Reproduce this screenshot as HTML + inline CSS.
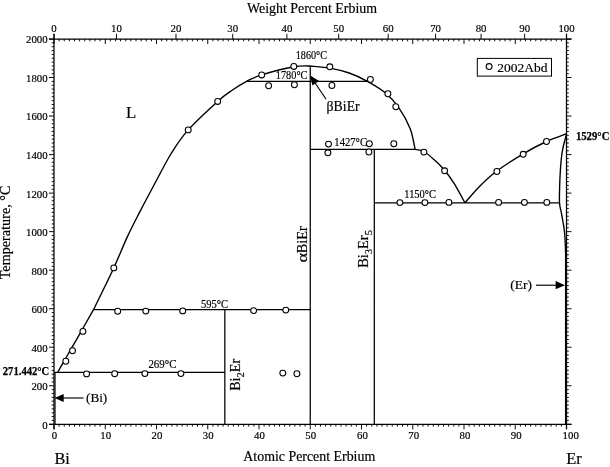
<!DOCTYPE html>
<html lang="en"><head><meta charset="utf-8"><title>Bi-Er Phase Diagram</title>
<style>html,body{margin:0;padding:0;background:#fff}body{width:610px;height:467px;overflow:hidden}</style>
</head><body>
<svg width="610" height="467" viewBox="0 0 610 467" style="display:block">
<rect width="610" height="467" fill="#fff"/>
<g stroke="#000" stroke-width="1.25" fill="none" stroke-linecap="butt">
<path d="M49.00 39.00H571.50M49.00 424.30H571.50M54.00 33.80V429.30M566.50 33.80V429.30"/>
</g>
<g stroke="#000" stroke-width="0.95" fill="none">
<path d="M54.00 424.30v5M54.00 39.00v5M59.12 424.30v2.3M59.12 39.00v2.3M64.25 424.30v2.3M64.25 39.00v2.3M69.38 424.30v2.3M69.38 39.00v2.3M74.50 424.30v2.3M74.50 39.00v2.3M79.62 424.30v2.3M79.62 39.00v2.3M84.75 424.30v2.3M84.75 39.00v2.3M89.88 424.30v2.3M89.88 39.00v2.3M95.00 424.30v2.3M95.00 39.00v2.3M100.12 424.30v2.3M100.12 39.00v2.3M105.25 424.30v5M105.25 39.00v5M110.38 424.30v2.3M110.38 39.00v2.3M115.50 424.30v2.3M115.50 39.00v2.3M120.62 424.30v2.3M120.62 39.00v2.3M125.75 424.30v2.3M125.75 39.00v2.3M130.88 424.30v2.3M130.88 39.00v2.3M136.00 424.30v2.3M136.00 39.00v2.3M141.12 424.30v2.3M141.12 39.00v2.3M146.25 424.30v2.3M146.25 39.00v2.3M151.38 424.30v2.3M151.38 39.00v2.3M156.50 424.30v5M156.50 39.00v5M161.62 424.30v2.3M161.62 39.00v2.3M166.75 424.30v2.3M166.75 39.00v2.3M171.88 424.30v2.3M171.88 39.00v2.3M177.00 424.30v2.3M177.00 39.00v2.3M182.12 424.30v2.3M182.12 39.00v2.3M187.25 424.30v2.3M187.25 39.00v2.3M192.38 424.30v2.3M192.38 39.00v2.3M197.50 424.30v2.3M197.50 39.00v2.3M202.62 424.30v2.3M202.62 39.00v2.3M207.75 424.30v5M207.75 39.00v5M212.88 424.30v2.3M212.88 39.00v2.3M218.00 424.30v2.3M218.00 39.00v2.3M223.12 424.30v2.3M223.12 39.00v2.3M228.25 424.30v2.3M228.25 39.00v2.3M233.38 424.30v2.3M233.38 39.00v2.3M238.50 424.30v2.3M238.50 39.00v2.3M243.62 424.30v2.3M243.62 39.00v2.3M248.75 424.30v2.3M248.75 39.00v2.3M253.88 424.30v2.3M253.88 39.00v2.3M259.00 424.30v5M259.00 39.00v5M264.12 424.30v2.3M264.12 39.00v2.3M269.25 424.30v2.3M269.25 39.00v2.3M274.38 424.30v2.3M274.38 39.00v2.3M279.50 424.30v2.3M279.50 39.00v2.3M284.62 424.30v2.3M284.62 39.00v2.3M289.75 424.30v2.3M289.75 39.00v2.3M294.88 424.30v2.3M294.88 39.00v2.3M300.00 424.30v2.3M300.00 39.00v2.3M305.12 424.30v2.3M305.12 39.00v2.3M310.25 424.30v5M310.25 39.00v5M315.38 424.30v2.3M315.38 39.00v2.3M320.50 424.30v2.3M320.50 39.00v2.3M325.62 424.30v2.3M325.62 39.00v2.3M330.75 424.30v2.3M330.75 39.00v2.3M335.88 424.30v2.3M335.88 39.00v2.3M341.00 424.30v2.3M341.00 39.00v2.3M346.12 424.30v2.3M346.12 39.00v2.3M351.25 424.30v2.3M351.25 39.00v2.3M356.38 424.30v2.3M356.38 39.00v2.3M361.50 424.30v5M361.50 39.00v5M366.62 424.30v2.3M366.62 39.00v2.3M371.75 424.30v2.3M371.75 39.00v2.3M376.88 424.30v2.3M376.88 39.00v2.3M382.00 424.30v2.3M382.00 39.00v2.3M387.12 424.30v2.3M387.12 39.00v2.3M392.25 424.30v2.3M392.25 39.00v2.3M397.38 424.30v2.3M397.38 39.00v2.3M402.50 424.30v2.3M402.50 39.00v2.3M407.62 424.30v2.3M407.62 39.00v2.3M412.75 424.30v5M412.75 39.00v5M417.88 424.30v2.3M417.88 39.00v2.3M423.00 424.30v2.3M423.00 39.00v2.3M428.12 424.30v2.3M428.12 39.00v2.3M433.25 424.30v2.3M433.25 39.00v2.3M438.38 424.30v2.3M438.38 39.00v2.3M443.50 424.30v2.3M443.50 39.00v2.3M448.62 424.30v2.3M448.62 39.00v2.3M453.75 424.30v2.3M453.75 39.00v2.3M458.88 424.30v2.3M458.88 39.00v2.3M464.00 424.30v5M464.00 39.00v5M469.12 424.30v2.3M469.12 39.00v2.3M474.25 424.30v2.3M474.25 39.00v2.3M479.38 424.30v2.3M479.38 39.00v2.3M484.50 424.30v2.3M484.50 39.00v2.3M489.62 424.30v2.3M489.62 39.00v2.3M494.75 424.30v2.3M494.75 39.00v2.3M499.88 424.30v2.3M499.88 39.00v2.3M505.00 424.30v2.3M505.00 39.00v2.3M510.12 424.30v2.3M510.12 39.00v2.3M515.25 424.30v5M515.25 39.00v5M520.38 424.30v2.3M520.38 39.00v2.3M525.50 424.30v2.3M525.50 39.00v2.3M530.62 424.30v2.3M530.62 39.00v2.3M535.75 424.30v2.3M535.75 39.00v2.3M540.88 424.30v2.3M540.88 39.00v2.3M546.00 424.30v2.3M546.00 39.00v2.3M551.12 424.30v2.3M551.12 39.00v2.3M556.25 424.30v2.3M556.25 39.00v2.3M561.38 424.30v2.3M561.38 39.00v2.3M566.50 424.30v5M566.50 39.00v5M54.00 39.00v-5.2M116.48 39.00v-5.2M175.98 39.00v-5.2M232.73 39.00v-5.2M286.90 39.00v-5.2M338.66 39.00v-5.2M388.19 39.00v-5.2M435.60 39.00v-5.2M481.05 39.00v-5.2M524.65 39.00v-5.2M566.50 39.00v-5.2M54.00 424.30h-5M566.50 424.30h5M54.00 420.45h-2.3M566.50 420.45h2.3M54.00 416.59h-2.3M566.50 416.59h2.3M54.00 412.74h-2.3M566.50 412.74h2.3M54.00 408.89h-2.3M566.50 408.89h2.3M54.00 405.04h-2.3M566.50 405.04h2.3M54.00 401.18h-2.3M566.50 401.18h2.3M54.00 397.33h-2.3M566.50 397.33h2.3M54.00 393.48h-2.3M566.50 393.48h2.3M54.00 389.62h-2.3M566.50 389.62h2.3M54.00 385.77h-5M566.50 385.77h5M54.00 381.92h-2.3M566.50 381.92h2.3M54.00 378.06h-2.3M566.50 378.06h2.3M54.00 374.21h-2.3M566.50 374.21h2.3M54.00 370.36h-2.3M566.50 370.36h2.3M54.00 366.50h-2.3M566.50 366.50h2.3M54.00 362.65h-2.3M566.50 362.65h2.3M54.00 358.80h-2.3M566.50 358.80h2.3M54.00 354.95h-2.3M566.50 354.95h2.3M54.00 351.09h-2.3M566.50 351.09h2.3M54.00 347.24h-5M566.50 347.24h5M54.00 343.39h-2.3M566.50 343.39h2.3M54.00 339.53h-2.3M566.50 339.53h2.3M54.00 335.68h-2.3M566.50 335.68h2.3M54.00 331.83h-2.3M566.50 331.83h2.3M54.00 327.98h-2.3M566.50 327.98h2.3M54.00 324.12h-2.3M566.50 324.12h2.3M54.00 320.27h-2.3M566.50 320.27h2.3M54.00 316.42h-2.3M566.50 316.42h2.3M54.00 312.56h-2.3M566.50 312.56h2.3M54.00 308.71h-5M566.50 308.71h5M54.00 304.86h-2.3M566.50 304.86h2.3M54.00 301.00h-2.3M566.50 301.00h2.3M54.00 297.15h-2.3M566.50 297.15h2.3M54.00 293.30h-2.3M566.50 293.30h2.3M54.00 289.45h-2.3M566.50 289.45h2.3M54.00 285.59h-2.3M566.50 285.59h2.3M54.00 281.74h-2.3M566.50 281.74h2.3M54.00 277.89h-2.3M566.50 277.89h2.3M54.00 274.03h-2.3M566.50 274.03h2.3M54.00 270.18h-5M566.50 270.18h5M54.00 266.33h-2.3M566.50 266.33h2.3M54.00 262.47h-2.3M566.50 262.47h2.3M54.00 258.62h-2.3M566.50 258.62h2.3M54.00 254.77h-2.3M566.50 254.77h2.3M54.00 250.92h-2.3M566.50 250.92h2.3M54.00 247.06h-2.3M566.50 247.06h2.3M54.00 243.21h-2.3M566.50 243.21h2.3M54.00 239.36h-2.3M566.50 239.36h2.3M54.00 235.50h-2.3M566.50 235.50h2.3M54.00 231.65h-5M566.50 231.65h5M54.00 227.80h-2.3M566.50 227.80h2.3M54.00 223.94h-2.3M566.50 223.94h2.3M54.00 220.09h-2.3M566.50 220.09h2.3M54.00 216.24h-2.3M566.50 216.24h2.3M54.00 212.39h-2.3M566.50 212.39h2.3M54.00 208.53h-2.3M566.50 208.53h2.3M54.00 204.68h-2.3M566.50 204.68h2.3M54.00 200.83h-2.3M566.50 200.83h2.3M54.00 196.97h-2.3M566.50 196.97h2.3M54.00 193.12h-5M566.50 193.12h5M54.00 189.27h-2.3M566.50 189.27h2.3M54.00 185.41h-2.3M566.50 185.41h2.3M54.00 181.56h-2.3M566.50 181.56h2.3M54.00 177.71h-2.3M566.50 177.71h2.3M54.00 173.86h-2.3M566.50 173.86h2.3M54.00 170.00h-2.3M566.50 170.00h2.3M54.00 166.15h-2.3M566.50 166.15h2.3M54.00 162.30h-2.3M566.50 162.30h2.3M54.00 158.44h-2.3M566.50 158.44h2.3M54.00 154.59h-5M566.50 154.59h5M54.00 150.74h-2.3M566.50 150.74h2.3M54.00 146.88h-2.3M566.50 146.88h2.3M54.00 143.03h-2.3M566.50 143.03h2.3M54.00 139.18h-2.3M566.50 139.18h2.3M54.00 135.33h-2.3M566.50 135.33h2.3M54.00 131.47h-2.3M566.50 131.47h2.3M54.00 127.62h-2.3M566.50 127.62h2.3M54.00 123.77h-2.3M566.50 123.77h2.3M54.00 119.91h-2.3M566.50 119.91h2.3M54.00 116.06h-5M566.50 116.06h5M54.00 112.21h-2.3M566.50 112.21h2.3M54.00 108.35h-2.3M566.50 108.35h2.3M54.00 104.50h-2.3M566.50 104.50h2.3M54.00 100.65h-2.3M566.50 100.65h2.3M54.00 96.80h-2.3M566.50 96.80h2.3M54.00 92.94h-2.3M566.50 92.94h2.3M54.00 89.09h-2.3M566.50 89.09h2.3M54.00 85.24h-2.3M566.50 85.24h2.3M54.00 81.38h-2.3M566.50 81.38h2.3M54.00 77.53h-5M566.50 77.53h5M54.00 73.68h-2.3M566.50 73.68h2.3M54.00 69.82h-2.3M566.50 69.82h2.3M54.00 65.97h-2.3M566.50 65.97h2.3M54.00 62.12h-2.3M566.50 62.12h2.3M54.00 58.27h-2.3M566.50 58.27h2.3M54.00 54.41h-2.3M566.50 54.41h2.3M54.00 50.56h-2.3M566.50 50.56h2.3M54.00 46.71h-2.3M566.50 46.71h2.3M54.00 42.85h-2.3M566.50 42.85h2.3M54.00 39.00h-5M566.50 39.00h5"/>
</g>
<g stroke="#000" stroke-width="1.4" fill="none" stroke-linejoin="round">
<path d="M54.00 372.48H224.83M93.5 309.67H310.25M246.6 81.38H366.9M310.25 149.39H415.1M374.31 202.75H559.5M224.83 424.30V309.67M310.25 424.30V65.97M374.31 424.30V149.39" stroke-width="1.25"/>
<path d="M565.5 252V424.30M55.05 372.48V424.30" stroke-width="1.1"/>
<path d="M57.60 372.48C58.67 370.60 61.87 364.91 64.00 361.20C66.13 357.49 67.50 355.23 70.40 350.20C73.30 345.17 77.55 337.75 81.40 331.00C85.25 324.25 91.48 313.23 93.50 309.67"/>
<path d="M93.50 309.67C96.72 303.06 107.18 282.10 112.80 270.00C118.42 257.90 122.83 246.53 127.20 237.10C131.57 227.67 134.08 222.92 139.00 213.40C143.92 203.88 151.28 190.07 156.70 180.00C162.12 169.93 166.25 161.35 171.50 153.00C176.75 144.65 180.50 138.50 188.20 129.90C195.90 121.30 210.32 108.05 217.70 101.40C225.08 94.75 227.68 93.35 232.50 90.00C237.32 86.65 241.73 83.82 246.60 81.30C251.47 78.78 253.83 77.32 261.70 74.90C269.57 72.48 285.67 68.28 293.80 66.80C301.93 65.32 307.72 66.13 310.50 66.00"/>
<path d="M310.50 66.00C313.73 66.35 323.45 66.93 329.90 68.10C336.35 69.27 343.03 70.83 349.20 73.00C355.37 75.17 361.00 77.88 366.90 81.10C372.80 84.32 379.35 87.97 384.60 92.30C389.85 96.63 394.13 101.03 398.40 107.10C402.67 113.17 407.42 121.65 410.20 128.70C412.98 135.75 414.28 145.94 415.10 149.39"/>
<path d="M415.10 149.39C416.57 149.74 420.62 149.68 423.90 151.50C427.18 153.32 431.35 157.18 434.80 160.30C438.25 163.42 441.33 166.27 444.60 170.20C447.87 174.13 451.02 178.47 454.40 183.90C457.78 189.33 463.15 199.61 464.90 202.75"/>
<path d="M464.90 202.75C467.42 199.94 474.67 191.19 480.00 185.90C485.33 180.61 489.70 176.35 496.90 171.00C504.10 165.65 514.93 158.72 523.20 153.80C531.47 148.88 539.27 144.85 546.50 141.50C553.73 138.15 563.25 135.00 566.60 133.70"/>
<path d="M566.40 134.20C566.12 135.33 565.20 139.03 564.70 141.00C564.20 142.97 563.77 144.42 563.40 146.00C563.03 147.58 562.82 148.67 562.50 150.50C562.18 152.33 561.85 153.75 561.50 157.00C561.15 160.25 560.70 165.33 560.40 170.00C560.10 174.67 559.85 179.54 559.70 185.00C559.55 190.46 559.25 198.25 559.50 202.75C559.75 207.25 560.62 208.79 561.20 212.00C561.78 215.21 562.45 218.67 563.00 222.00C563.55 225.33 564.12 228.33 564.50 232.00C564.88 235.67 565.13 240.67 565.30 244.00C565.47 247.33 565.47 250.67 565.50 252.00"/>
</g>
<g stroke="#000" stroke-width="1.15" fill="none">
<path d="M83.6 398H62"/>
<path d="M535.9 285.2H557"/>
<path d="M326.1 99.3L315.3 83.2"/>
</g>
<g fill="#000" stroke="none">
<path d="M54.5 398l9.2 -4.1v8.2z"/>
<path d="M565 285.2l-9.4 -4.1v8.2z"/>
<path d="M310.2 75.4L319.1 80.9L312.4 85.6z"/>
</g>
<g fill="#fff" stroke="#000" stroke-width="1.05">
<circle cx="261.7" cy="74.9" r="2.95"/>
<circle cx="293.8" cy="66.4" r="2.95"/>
<circle cx="329.8" cy="66.8" r="2.95"/>
<circle cx="268.6" cy="85.7" r="2.95"/>
<circle cx="294.4" cy="84.7" r="2.95"/>
<circle cx="331.9" cy="85.5" r="2.95"/>
<circle cx="370.4" cy="79.5" r="2.95"/>
<circle cx="387.9" cy="93.7" r="2.95"/>
<circle cx="395.8" cy="106.7" r="2.95"/>
<circle cx="328.5" cy="144.1" r="2.95"/>
<circle cx="327.9" cy="152.8" r="2.95"/>
<circle cx="369.3" cy="143.7" r="2.95"/>
<circle cx="368.9" cy="152.0" r="2.95"/>
<circle cx="393.8" cy="143.7" r="2.95"/>
<circle cx="423.9" cy="152.1" r="2.95"/>
<circle cx="444.6" cy="170.8" r="2.95"/>
<circle cx="399.9" cy="202.6" r="2.95"/>
<circle cx="424.9" cy="202.6" r="2.95"/>
<circle cx="448.9" cy="202.4" r="2.95"/>
<circle cx="496.9" cy="171.5" r="2.95"/>
<circle cx="523.2" cy="154.3" r="2.95"/>
<circle cx="546.5" cy="141.5" r="2.95"/>
<circle cx="498.6" cy="202.4" r="2.95"/>
<circle cx="524.4" cy="202.4" r="2.95"/>
<circle cx="546.8" cy="202.4" r="2.95"/>
<circle cx="113.8" cy="267.9" r="2.95"/>
<circle cx="188.2" cy="129.9" r="2.95"/>
<circle cx="217.7" cy="101.4" r="2.95"/>
<circle cx="117.7" cy="311.2" r="2.95"/>
<circle cx="145.8" cy="311.1" r="2.95"/>
<circle cx="182.7" cy="310.9" r="2.95"/>
<circle cx="253.6" cy="310.6" r="2.95"/>
<circle cx="285.8" cy="310.1" r="2.95"/>
<circle cx="82.9" cy="331.4" r="2.95"/>
<circle cx="72.5" cy="350.7" r="2.95"/>
<circle cx="65.8" cy="361.2" r="2.95"/>
<circle cx="86.6" cy="373.9" r="2.95"/>
<circle cx="114.7" cy="373.8" r="2.95"/>
<circle cx="144.9" cy="373.6" r="2.95"/>
<circle cx="180.9" cy="373.6" r="2.95"/>
<circle cx="282.8" cy="373.1" r="2.95"/>
<circle cx="296.9" cy="373.7" r="2.95"/>
<circle cx="489.1" cy="66.6" r="2.95"/>
</g>
<rect x="477.3" y="58.4" width="74.2" height="17.7" fill="none" stroke="#000" stroke-width="1"/>
<g font-family="'Liberation Serif', 'Times New Roman', serif" fill="#000" stroke="#000" stroke-width="0.18">
<g font-size="10.8">
<text x="47.6" y="428.70" text-anchor="end">0</text>
<text x="47.6" y="390.17" text-anchor="end">200</text>
<text x="47.6" y="351.64" text-anchor="end">400</text>
<text x="47.6" y="313.11" text-anchor="end">600</text>
<text x="47.6" y="274.58" text-anchor="end">800</text>
<text x="47.6" y="236.05" text-anchor="end">1000</text>
<text x="47.6" y="197.52" text-anchor="end">1200</text>
<text x="47.6" y="158.99" text-anchor="end">1400</text>
<text x="47.6" y="120.46" text-anchor="end">1600</text>
<text x="47.6" y="81.93" text-anchor="end">1800</text>
<text x="47.6" y="43.40" text-anchor="end">2000</text>
<text x="54.50" y="438.9" text-anchor="middle">0</text>
<text x="105.75" y="438.9" text-anchor="middle">10</text>
<text x="157.00" y="438.9" text-anchor="middle">20</text>
<text x="208.25" y="438.9" text-anchor="middle">30</text>
<text x="259.50" y="438.9" text-anchor="middle">40</text>
<text x="310.75" y="438.9" text-anchor="middle">50</text>
<text x="362.40" y="438.9" text-anchor="middle">60</text>
<text x="413.65" y="438.9" text-anchor="middle">70</text>
<text x="464.90" y="438.9" text-anchor="middle">80</text>
<text x="516.15" y="438.9" text-anchor="middle">90</text>
<text x="570.70" y="438.9" text-anchor="middle">100</text>
<text x="54.00" y="32.0" text-anchor="middle">0</text>
<text x="116.48" y="32.0" text-anchor="middle">10</text>
<text x="175.98" y="32.0" text-anchor="middle">20</text>
<text x="232.73" y="32.0" text-anchor="middle">30</text>
<text x="286.90" y="32.0" text-anchor="middle">40</text>
<text x="338.66" y="32.0" text-anchor="middle">50</text>
<text x="388.19" y="32.0" text-anchor="middle">60</text>
<text x="435.60" y="32.0" text-anchor="middle">70</text>
<text x="481.05" y="32.0" text-anchor="middle">80</text>
<text x="524.65" y="32.0" text-anchor="middle">90</text>
<text x="566.50" y="32.0" text-anchor="middle">100</text>
<text x="404.30" y="197.50" font-size="11.5" textLength="31.70" lengthAdjust="spacingAndGlyphs">1150°C</text>
<text x="200.90" y="307.70" font-size="11.5" textLength="27.10" lengthAdjust="spacingAndGlyphs">595°C</text>
<text x="148.40" y="367.70" font-size="11.5" textLength="28.10" lengthAdjust="spacingAndGlyphs">269°C</text>
<text x="334.30" y="146.00" font-size="11.5" textLength="32.70" lengthAdjust="spacingAndGlyphs">1427°C</text>
<text x="295.80" y="59.00" font-size="11.5" textLength="31.10" lengthAdjust="spacingAndGlyphs">1860°C</text>
<text x="275.80" y="79.00" font-size="11.5" textLength="31.60" lengthAdjust="spacingAndGlyphs">1780°C</text>
<text x="2.8" y="374.5" font-weight="bold" stroke-width="0.25" font-size="12" textLength="46.5" lengthAdjust="spacingAndGlyphs">271.442°C</text>
<text x="575.9" y="139.6" font-weight="bold" stroke-width="0.25" font-size="12" textLength="33.5" lengthAdjust="spacingAndGlyphs">1529°C</text>
</g>
<text x="247" y="12.6" font-size="13.9">Weight Percent Erbium</text>
<text x="243.3" y="460.8" font-size="13.9">Atomic Percent Erbium</text>
<text transform="translate(10.2 279.3) rotate(-90)" font-size="14.2">Temperature, °C</text>
<text x="54.4" y="463.8" font-size="16.3">Bi</text>
<text x="566.2" y="463.7" font-size="16.5">Er</text>
<text x="126.1" y="118" font-size="16.8">L</text>
<text x="497.2" y="71.5" font-size="13.5">2002Abd</text>
<text x="86" y="401.6" font-size="13.2">(Bi)</text>
<text x="510.3" y="289.3" font-size="13.5">(Er)</text>
<text x="326.6" y="111.4" font-size="13.8">βBiEr</text>
<text transform="translate(307.2 262.4) rotate(-90) scale(1.28 1.04)" font-size="14.3">α</text>
<text transform="translate(307.2 253.2) rotate(-90)" font-size="14.3">BiEr</text>
<text transform="translate(367.9 267.8) rotate(-90)" font-size="14.4">Bi<tspan font-size="10.5" dy="4.3">3</tspan><tspan dy="-4.3">Er</tspan><tspan font-size="10.5" dy="4.3">5</tspan></text>
<text transform="translate(239.6 390.8) rotate(-90)" font-size="14.1">Bi<tspan font-size="10.5" dy="4.3">2</tspan><tspan dy="-4.3">Er</tspan></text>
</g>
</svg>
</body></html>
